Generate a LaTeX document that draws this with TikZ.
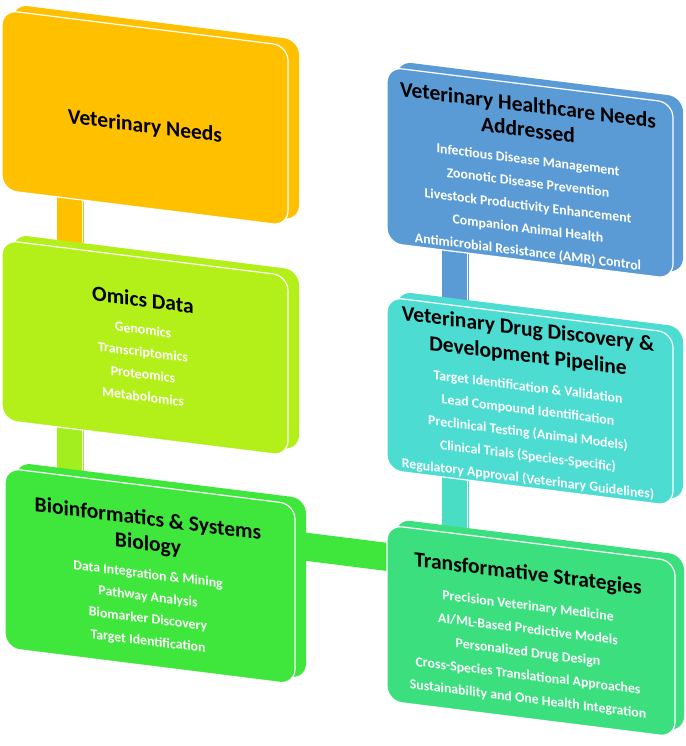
\documentclass[tikz,border=0pt]{standalone}
\usepackage{fontspec}
\setmainfont{Carlito}
\usetikzlibrary{backgrounds}
\definecolor{cOrange}{HTML}{FFC000}
\definecolor{cLime}{HTML}{B3F01A}
\definecolor{cGreen}{HTML}{3FE63C}
\definecolor{cBlue}{HTML}{5B9BD5}
\definecolor{cTeal}{HTML}{4DDCD2}
\definecolor{cMint}{HTML}{3BDF7E}
\tikzset{
  face/.style={rectangle, rounded corners=15pt, draw=white, line width=1.2pt, inner sep=0pt},
  backface/.style={rectangle, rounded corners=15pt, inner sep=0pt},
  ttl/.style={font=\bfseries\fontsize{21.5}{26}\selectfont, text=black, align=center, inner sep=0pt},
  bodytext/.style={font=\bfseries\fontsize{13.8}{23}\selectfont, text=white, align=center, inner sep=0pt},
  stemband/.style={line width=27pt},
  stemline/.style={draw=white, line width=0.8pt},
}
\begin{document}
\begin{tikzpicture}[x=1pt,y=1pt]
\useasboundingbox (0,0) rectangle (685,-746);

% Box 1: Veterinary Needs
\begin{scope}[shift={(2,-10)}, yslant=-0.125, transform shape]
  \node[backface, fill=cOrange, minimum width=286pt, minimum height=180pt] (b1) at (154,-83) {};
  \node[face, fill=cOrange, minimum width=286pt, minimum height=180pt] (n1) at (143,-90) {};
  \node[ttl] (t1) at (143,-99) {Veterinary Needs};
\end{scope}

% Box 2: Omics Data
\begin{scope}[shift={(2,-240)}, yslant=-0.125, transform shape]
  \node[backface, fill=cLime, minimum width=286pt, minimum height=180pt] (b2) at (154,-83) {};
  \node[face, fill=cLime, minimum width=286pt, minimum height=180pt] (n2) at (143,-90) {};
  \node[ttl] (t2) at (141,-42) {Omics Data};
  \node[bodytext, font=\bfseries\fontsize{13.8}{22.3}\selectfont] (d2) at (141,-105.5) {Genomics\\Transcriptomics\\Proteomics\\Metabolomics};
\end{scope}

% Box 3: Bioinformatics
\begin{scope}[shift={(5,-468)}, yslant=-0.125, transform shape]
  \node[backface, fill=cGreen, minimum width=290pt, minimum height=180pt] (b3) at (156,-83) {};
  \node[face, fill=cGreen, minimum width=290pt, minimum height=180pt] (n3) at (145,-90) {};
  \node[ttl, font=\bfseries\fontsize{21.5}{25}\selectfont] (t3) at (143,-46.5) {Bioinformatics \& Systems\\Biology};
  \node[bodytext, font=\bfseries\fontsize{13.8}{22.3}\selectfont] (d3) at (143,-122.5) {Data Integration \& Mining\\Pathway Analysis\\Biomarker Discovery\\Target Identification};
\end{scope}

% Box 4: Healthcare needs
\begin{scope}[shift={(387,-67)}, yslant=-0.125, transform shape]
  \node[backface, fill=cBlue, minimum width=286pt, minimum height=176pt] (b4) at (153,-81) {};
  \node[face, fill=cBlue, minimum width=286pt, minimum height=176pt] (n4) at (143,-88) {};
  \node[ttl, font=\bfseries\fontsize{21.5}{25}\selectfont] (t4) at (141,-32.5) {Veterinary Healthcare Needs\\Addressed};
  \node[bodytext] (d4) at (141,-121.8) {Infectious Disease Management\\Zoonotic Disease Prevention\\Livestock Productivity Enhancement\\Companion Animal Health\\Antimicrobial Resistance (AMR) Control};
\end{scope}

% Box 5: Drug discovery
\begin{scope}[shift={(387,-297)}, yslant=-0.125, transform shape]
  \node[backface, fill=cTeal, minimum width=286pt, minimum height=173pt] (b5) at (153,-79.5) {};
  \node[face, fill=cTeal, minimum width=286pt, minimum height=173pt] (n5) at (143,-86.5) {};
  \node[ttl, font=\bfseries\fontsize{21.5}{26.6}\selectfont] (t5) at (141,-28.7) {Veterinary Drug Discovery \&\\Development Pipeline};
  \node[bodytext] (d5) at (141,-119) {Target Identification \& Validation\\Lead Compound Identification\\Preclinical Testing (Animal Models)\\Clinical Trials (Species-Specific)\\Regulatory Approval (Veterinary Guidelines)};
\end{scope}

% Box 6: Transformative strategies
\begin{scope}[shift={(387,-525)}, yslant=-0.125, transform shape]
  \node[backface, fill=cMint, minimum width=288pt, minimum height=176pt] (b6) at (153,-81) {};
  \node[face, fill=cMint, minimum width=288pt, minimum height=176pt] (n6) at (144,-88) {};
  \node[ttl] (t6) at (141,-32) {Transformative Strategies};
  \node[bodytext, font=\bfseries\fontsize{13.8}{23.25}\selectfont] (d6) at (141,-110.5) {Precision Veterinary Medicine\\AI/ML-Based Predictive Models\\Personalized Drug Design\\Cross-Species Translational Approaches\\Sustainability and One Health Integration};
\end{scope}

\begin{pgfonlayer}{background}
  \draw[stemband, cOrange] ([xshift=-75pt]n1.center) -- ([xshift=-75pt]n2.center);
  \draw[stemline] ([xshift=-63pt]n1.center) -- ([xshift=-63pt]n2.center);
  \draw[stemband, cLime!85!cGreen] ([xshift=-75pt]n2.center) -- ([xshift=-80pt]n3.center);
  \draw[stemline] ([xshift=-63pt]n2.center) -- ([xshift=-68pt]n3.center);
  \draw[stemband, cBlue] ([xshift=-75pt]n4.center) -- ([xshift=-75pt]n5.center);
  \draw[stemline] ([xshift=-63pt]n4.center) -- ([xshift=-63pt]n5.center);
  \draw[stemband, cTeal!85!cMint] ([xshift=-75pt]n5.center) -- ([xshift=-76pt]n6.center);
  \draw[stemline] ([xshift=-63pt]n5.center) -- ([xshift=-64pt]n6.center);
  \draw[line width=28pt, cGreen] ([yshift=49pt]n3.center) -- ([yshift=56pt]n6.center);
\end{pgfonlayer}
\end{tikzpicture}
\end{document}
